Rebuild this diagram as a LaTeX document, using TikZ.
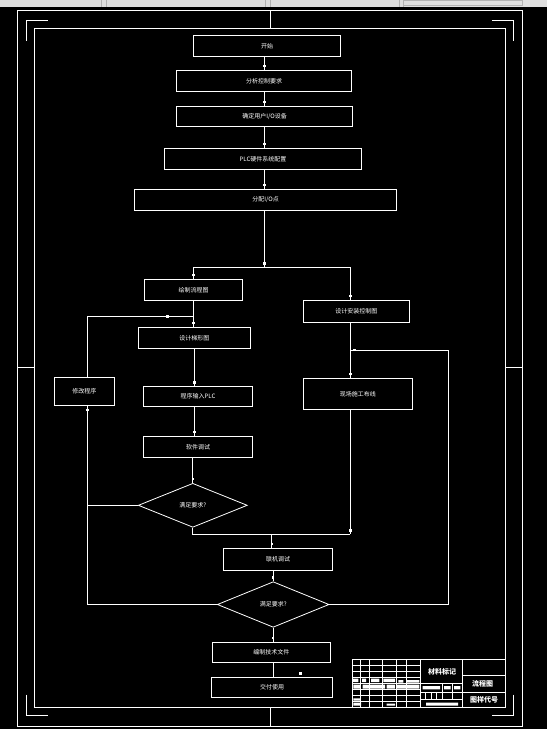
\documentclass[tikz,border=0pt]{standalone}
\usepackage{fontspec}
\newfontfamily\cjk{Noto Sans CJK SC}
\usetikzlibrary{shapes.geometric,decorations.markings}
\tikzset{
  box/.style={draw=white, line width=0.8pt, rectangle, inner sep=0pt, text=white, font=\cjk\fontsize{6}{7}\selectfont},
  dia/.style={draw=white, line width=0.8pt, diamond, inner sep=0pt, text=white, font=\cjk\fontsize{6}{7}\selectfont},
  wire/.style={draw=white, line width=0.8pt},
  sqend/.style={wire, postaction={decorate}, decoration={markings, mark=at position -4pt with {\fill[white] (-1.2pt,-1.2pt) rectangle (1.2pt,1.2pt);}}},
  sqfar/.style={wire, postaction={decorate}, decoration={markings, mark=at position -26pt with {\fill[white] (-1.2pt,-1.2pt) rectangle (1.2pt,1.2pt);}}},
  sqn/.style={rectangle, fill=white, minimum size=2.4pt, inner sep=0pt},
  frame/.style={draw=white, line width=0.8pt},
  tb/.style={draw=white, line width=0.6pt},
  tbtext/.style={text=white, font=\cjk\bfseries\fontsize{7}{8}\selectfont, inner sep=0pt}
}
\begin{document}
\begin{tikzpicture}[x=1pt,y=-1pt]
\useasboundingbox (0,0) rectangle (547,729);
\fill[black] (0,0) rectangle (547,729);
% window strip
\fill[gray!25] (0,0) rectangle (547,6.5);
\draw[gray!60, line width=0.5pt] (101,0) -- (101,6.5) (106,0) -- (106,6.5) (265,0) -- (265,6.5) (270,0) -- (270,6.5) (399,0) -- (399,6.5) (403,0) -- (403,6.5);
\draw[gray!60, line width=0.5pt] (403,0.5) rectangle (522,5.5);

% drawing frame
\draw[frame] (17.4,10.8) rectangle (522,726);
\draw[frame] (34.2,28.3) rectangle (505.5,707.5);
\draw[frame] (270,10.8) -- (270,28.3) (270,707.5) -- (270,726);
\draw[frame] (17.4,367) -- (34.2,367) (505.5,367) -- (522,367);
\draw[frame] (47.8,20.2) -- (26.5,20.2) -- (26.5,41);
\draw[frame] (491.9,20.2) -- (513.5,20.2) -- (513.5,41);
\draw[frame] (26.5,694.6) -- (26.5,715.3) -- (47.8,715.3);
\draw[frame] (513.5,694.6) -- (513.5,715.3) -- (491.9,715.3);

% title block
\draw[tb] (352.3,659.3) rectangle (505.5,707.5);
\draw[tb] (420.3,659.3) -- (420.3,707.5) (462.3,659.3) -- (462.3,707.5);
\draw[tb] (462.3,675.3) -- (505.5,675.3) (462.3,692) -- (505.5,692);
\draw[tb] (420.3,683.3) -- (462.3,683.3) (420.3,692) -- (462.3,692) (420.3,699.3) -- (462.3,699.3);
\draw[tb] (442.3,683.3) -- (442.3,699.3) (452.3,683.3) -- (452.3,699.3);
\draw[tb] (425.7,692) -- (425.7,699.3) (431.3,692) -- (431.3,699.3) (436.7,692) -- (436.7,699.3);
\fill[white] (422.7,686) rectangle (440,689.3) (444,686) rectangle (450.7,689.3) (454,686) rectangle (460.3,689.3) (426,702.7) rectangle (458,705.7);
\foreach \yy in {665.3,671.3,677.3,683.3,689.3,695.3,701.3} {\draw[tb] (352.3,\yy) -- (420.3,\yy);}
\foreach \xx in {360.3,369.3,382.3,396.3,406.7} {\draw[tb] (\xx,659.3) -- (\xx,707.5);}
\fill[white] (352.3,678.7) rectangle (358.3,682) (362,678.7) rectangle (366,682) (371,678.7) rectangle (379.3,682) (383.3,678.7) rectangle (395,682) (398.3,680) rectangle (403.3,682.7) (407,680) rectangle (419.3,682.7);
\fill[white] (353.3,684.7) rectangle (360.7,688.7) (362.7,684.7) rectangle (385,688.7) (386.7,684.7) rectangle (395,688.7) (396.7,684.7) rectangle (419.3,688.7);
\fill[white] (353.3,698.3) rectangle (360,700.7) (353.3,702.7) rectangle (361,705.7) (386.7,703.7) rectangle (395,705.7);
\node[tbtext] (tbmat) at (442,671.7) {材料标记};
\node[tbtext] (tbname) at (482.5,684) {流程图};
\node[tbtext] (tbcode) at (484,699.6) {图样代号};

% flowchart nodes
\node[box, minimum width=147.4, minimum height=20.8] (start) at (267,45.9) {开始};
\node[box, minimum width=175.4, minimum height=21] (analyze) at (264,80.8) {分析控制要求};
\node[box, minimum width=176.4, minimum height=20.4] (io) at (264.5,116.5) {确定用户I/O设备};
\node[box, minimum width=197.4, minimum height=21] (plc) at (263,158.8) {PLC硬件系统配置};
\node[box, minimum width=262.4, minimum height=21] (assign) at (265.5,199.8) {分配I/O点};
\node[box, minimum width=98.4, minimum height=21] (flow) at (193.5,289.8) {绘制流程图};
\node[box, minimum width=112.2, minimum height=21.4] (ladder) at (194.4,338) {设计梯形图};
\node[box, minimum width=109.4, minimum height=19.6] (input) at (198,396.5) {程序输入PLC};
\node[box, minimum width=109.4, minimum height=21] (soft) at (198,446.8) {软件调试};
\node[dia, minimum width=109, minimum height=44] (d1) at (192.8,505.3) {满足要求?};
\node[box, minimum width=60, minimum height=28] (modify) at (84.3,391.3) {修改程序};
\node[box, minimum width=106.7, minimum height=22] (elec) at (356.3,311.3) {设计安装控制图};
\node[box, minimum width=109.7, minimum height=31] (site) at (357.8,393.8) {现场施工布线};
\node[box, minimum width=109.4, minimum height=22] (joint) at (278,559.3) {联机调试};
\node[dia, minimum width=111.7, minimum height=45.6] (d2) at (273.2,604.5) {满足要求?};
\node[box, minimum width=118, minimum height=20] (doc) at (271.3,652.3) {编制技术文件};
\node[box, minimum width=121.4, minimum height=20.3] (deliver) at (272,687.2) {交付使用};
\node[sqn] (stray) at (300.3,673.3) {};

% helper coordinates
\coordinate (cx) at (264.3,0);
\coordinate (jC) at (264.3,267.3);
\coordinate (jL) at (193.3,267.3);
\coordinate (jR) at (350.3,267.3);
\coordinate (lp1) at (87.3,316.3);
\coordinate (lp2) at (193.3,316.3);
\coordinate (c2) at (194.3,0);
\coordinate (jb) at (0,534.3);
\coordinate (c3) at (271.7,0);
\coordinate (rx) at (448.7,350);

% connectors
\draw[sqend] (start.south -| cx) -- (analyze.north -| cx);
\draw[sqend] (analyze.south -| cx) -- (io.north -| cx);
\draw[sqend] (io.south -| cx) -- (plc.north -| cx);
\draw[sqend] (plc.south -| cx) -- (assign.north -| cx);
\draw[sqend] (assign.south -| cx) -- (jC);
\draw[wire] (jL) -- (jR);
\draw[sqend] (jL) -- (flow.north -| jL);
\draw[sqend] (jR) -- (elec.north -| jR);
\draw[sqend] (flow.south -| jL) -- (ladder.north -| jL);
\draw[sqfar] (modify.north -| lp1) -- (lp1) -- (lp2);
\draw[sqend] (ladder.south -| c2) -- (input.north -| c2);
\draw[sqend] (input.south -| c2) -- (soft.north -| c2);
\draw[sqend] (soft.south -| d1.north) -- (d1.north);
\draw[sqend] (d1.west) -- (d1.west -| lp1) -- (modify.south -| lp1);
\draw[wire] (d2.west) -- (d2.west -| lp1) -- (d1.west -| lp1);
\draw[wire] (d1.south) -- (d1.south |- jb) -- (jR |- jb);
\draw[sqend] (elec.south -| jR) -- (site.north -| jR);
\draw[sqend] (site.south -| jR) -- (jR |- jb);
\draw[sqend] (c3 |- jb) -- (joint.north -| c3);
\draw[sqend] (joint.south -| d2.north) -- (d2.north);
\draw[sqend] (d2.south) -- (doc.north -| d2.south);
\draw[wire] (doc.south -| d2.south) -- (deliver.north -| d2.south);
\draw[sqend] (d2.east) -- (d2.east -| rx) -- (rx) -- (jR |- rx);
\end{tikzpicture}
\end{document}
